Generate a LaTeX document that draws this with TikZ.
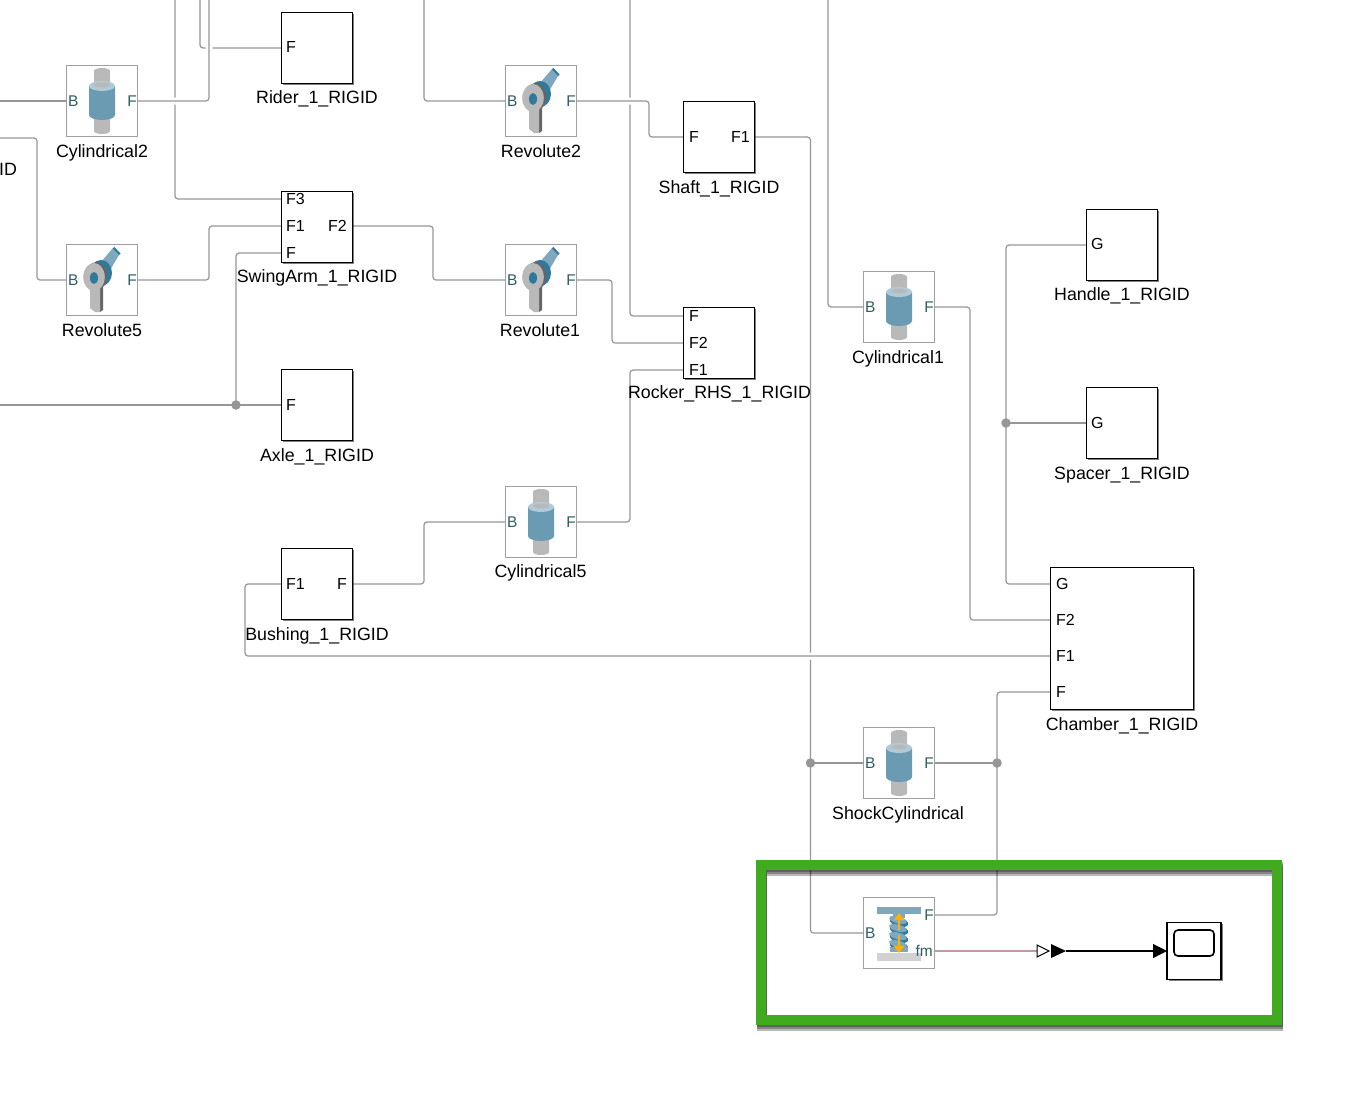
\documentclass[tikz,border=0pt]{standalone}
\usepackage{fontspec}
\setmainfont{Liberation Sans}
\usetikzlibrary{arrows.meta,shadows,backgrounds}
\definecolor{wiregray}{HTML}{969696}
\definecolor{jointgray}{HTML}{A0A0A0}
\definecolor{portteal}{HTML}{2F5F63}
\definecolor{bodyblue}{HTML}{6B9AB3}
\definecolor{capblue}{HTML}{AFCBDA}
\definecolor{armblue}{HTML}{7FA7BD}
\definecolor{deepblue}{HTML}{2F7A9C}
\definecolor{rodgray}{HTML}{B9B9B9}
\definecolor{markgreen}{HTML}{40AB1E}
\definecolor{forceorange}{HTML}{FFB000}
\definecolor{sigpink}{HTML}{C09A9E}
\tikzset{
  wire/.style={draw=wiregray, line width=1.2pt, rounded corners=3pt},
  hopwire/.style={wire, preaction={draw=white, line width=7pt}},
  rigid/.style={draw=black, fill=white, line width=1.2pt, inner sep=0pt, outer sep=0pt,
    minimum width=71.5pt, minimum height=71.5pt,
    drop shadow={shadow xshift=1.6pt, shadow yshift=-1.6pt, fill=black, opacity=.5}},
  joint/.style={draw=jointgray, fill=white, line width=1.2pt, inner sep=0pt, outer sep=0pt,
    minimum width=71.5pt, minimum height=71.5pt},
  jct/.style={circle, fill=wiregray, inner sep=0pt, minimum size=9.5pt},
  blocktxt/.style={anchor=base, inner sep=0pt, font=\fontsize{17.8}{20}\selectfont},
  rigidport/.style={inner sep=0pt, font=\fontsize{16}{18}\selectfont},
  jointport/.style={inner sep=0pt, text=portteal, font=\fontsize{15.5}{18}\selectfont},
  markshade/.style={draw=black, opacity=.28, line width=10pt, minimum width=516pt, minimum height=155pt},
  cylicon/.pic={
    \fill[rodgray] (-8,-30) -- (-8,30) arc [start angle=180, end angle=360, x radius=8pt, y radius=3pt] -- (8,-30) -- cycle;
    \fill[black!28] (0,-30) ellipse [x radius=8pt, y radius=3pt];
    \fill[bodyblue] (-13,-15) -- (-13,14) arc [start angle=180, end angle=360, x radius=13pt, y radius=5pt] -- (13,-15) -- cycle;
    \fill[capblue] (0,-15) ellipse [x radius=13pt, y radius=5pt];
    \fill[rodgray] (0,-16) ellipse [x radius=8pt, y radius=2.5pt];
  },
  revicon/.pic={
    \fill[armblue] (10.7,-31.7) -- (17,-25) -- (5.7,-6) -- (-2.7,-16) -- cycle;
    \fill[deepblue] (10.7,-31.7) -- (12.5,-33) -- (18.5,-26.5) -- (17,-25) -- cycle;
    \fill[deepblue] (-1,-7) ellipse [x radius=11pt, y radius=13pt];
    \fill[black!60] (-5.5,-4) ellipse [x radius=10.8pt, y radius=14pt];
    \fill[black!60] (-3,8) -- (1,6) -- (1,30) -- (-2,32) -- cycle;
    \fill[rodgray] (-12,0) -- (-12,28) -- (-7,32) -- (-2,32) -- (-2,6) -- cycle;
    \fill[rodgray] (-8,-3) ellipse [x radius=10.8pt, y radius=14pt];
    \fill[deepblue] (-8,-2) ellipse [x radius=4pt, y radius=6pt];
  }
}
\begin{document}
\begin{tikzpicture}[x=1pt, y=-1pt]
    \useasboundingbox (0,0) rectangle (1362,1098);

    \coordinate (leftcyl) at (0,101);
    \coordinate (leftrev) at (0,138);
    \coordinate (leftaxle) at (0,405);
    \coordinate (topswing) at (175,0);
    \coordinate (toprider) at (200,0);
    \coordinate (topcyl) at (209,0);
    \coordinate (toprev) at (424,0);
    \coordinate (toprock) at (630,0);
    \coordinate (topone) at (828,0);
    \coordinate (swFthree) at (281,199);
    \coordinate (swFone) at (281,226);
    \coordinate (swF) at (281,253);
    \coordinate (swFtwo) at (353,226);
    \coordinate (rockF) at (683,316);
    \coordinate (rockFtwo) at (683,343);
    \coordinate (rockFone) at (683,370);
    \coordinate (chamG) at (1050,584);
    \coordinate (chamFtwo) at (1050,620);
    \coordinate (chamFone) at (1050,656);
    \coordinate (chamF) at (1050,692);
    \coordinate (springB) at (863,933);
    \coordinate (springF) at (935,915);
    \coordinate (springfm) at (935,951);
    \coordinate (convin) at (1037,951);
    \coordinate (convout) at (1066,951);

    \node[jct] (axlejct) at (236,405) {};
    \node[jct] (spacerjct) at (1006,423) {};
    \node[jct] (shockB) at (810.5,763) {};
    \node[jct] (shockF) at (997,763) {};

    \node[rigid] (rider) at (317,48) {};
    \node[joint] (cyltwo) at (102,101) {};
    \node[joint] (revfive) at (102,280) {};
    \node[rigid] (swing) at (317,227) {};
    \node[rigid] (axle) at (317,405) {};
    \node[rigid] (bushing) at (317,584) {};
    \node[joint] (revtwo) at (541,101) {};
    \node[joint] (revone) at (541,280) {};
    \node[joint] (cylfive) at (541,522) {};
    \node[rigid] (shaft) at (719,137) {};
    \node[rigid] (rocker) at (719,343) {};
    \node[joint] (cylone) at (899,307) {};
    \node[rigid] (handle) at (1122,245) {};
    \node[rigid] (spacer) at (1122,423) {};
    \node[rigid, minimum width=143.5pt, minimum height=142.5pt] (chamber) at (1122,638.5) {};
    \node[joint] (shock) at (899,763) {};
    \node[joint] (spring) at (899,933) {};
    \node[rigid, minimum width=54pt, minimum height=57pt] (scopeblk) at (1194,951) {};

    \begin{scope}[on background layer]
    \draw[wire] (leftcyl) -- (cyltwo.west);
    \draw[wire] (leftrev) -| (37,210) |- (revfive.west);
    \draw[wire] (topswing) |- (swFthree);
    \draw[wire] (toprider) |- (rider.west);
    \draw[hopwire] (cyltwo.east) -| (topcyl);
    \draw[wire] (revfive.east) -| (209,253) |- (swFone);
    \draw[wire] (swF) -| (axlejct.center);
    \draw[wire] (leftaxle) -- (axle.west);
    \draw[wire] (swFtwo) -| (433,253) |- (revone.west);
    \draw[wire] (toprev) |- (revtwo.west);
    \draw[wire] (toprock) |- (rockF);
    \draw[hopwire] (revtwo.east) -| (649,119) |- (shaft.west);
    \draw[wire] (revone.east) -| (612,311) |- (rockFtwo);
    \draw[wire] (rockFone) -| (630,446) |- (cylfive.east);
    \draw[wire] (bushing.east) -| (424,553) |- (cylfive.west);
    \draw[wire] (shaft.east) -| (shockB.center);
    \draw[hopwire] (bushing.west) -| (245,620) |- (chamFone);
    \draw[wire] (shockB.center) |- (springB);
    \draw[wire] (shockB.center) -- (shock.west);
    \draw[wire] (topone) |- (cylone.west);
    \draw[wire] (cylone.east) -| (970,463) |- (chamFtwo);
    \draw[wire] (handle.west) -| (1006,414) |- (chamG);
    \draw[wire] (spacerjct.center) -- (spacer.west);
    \draw[wire] (shock.east) -- (shockF.center);
    \draw[wire] (chamF) -| (997,803) |- (springF);
    \draw[draw=sigpink, line width=1.2pt] (springfm) -- (convin);
    \end{scope}

    \pic at (cyltwo) {cylicon};
    \pic at (cylfive) {cylicon};
    \pic at (cylone) {cylicon};
    \pic at (shock) {cylicon};
    \pic at (revfive) {revicon};
    \pic at (revtwo) {revicon};
    \pic at (revone) {revicon};

    \fill[armblue] (877,907) rectangle (921,914);
    \fill[armblue] (893,914) rectangle (905,918);
    \foreach \coil in {920,928,936,944} {
        \fill[deepblue, rotate around={-15:(899,\coil+2)}] (899,\coil+2) ellipse [x radius=9.5pt, y radius=4.5pt];
        \fill[armblue, rotate around={-15:(898,\coil)}] (898,\coil) ellipse [x radius=9pt, y radius=3.5pt];
    }
    \fill[armblue] (890,947) rectangle (908,952);
    \fill[black!18] (877,953) rectangle (921,961);
    \draw[forceorange, line width=2.5pt, -{Triangle[length=7pt, width=10pt]}] (899,930) -- (899,913);
    \draw[forceorange, line width=2.5pt, -{Triangle[length=7pt, width=10pt]}] (899,935) -- (899,953);

    \draw[draw=black, line width=1pt, fill=white] (1037,945) -- (1049,951) -- (1037,957) -- cycle;
    \fill[black] (1051,944) -- (1066,951) -- (1051,958) -- cycle;
    \draw[draw=black, line width=1.1pt, -{Triangle[length=14pt, width=14pt]}] (convout) -- (scopeblk.west);
    \draw[draw=black, line width=1.6pt, rounded corners=4pt] (1174,930) rectangle (1214,956);

    \node[jointport, anchor=base west] (cyltwoB) at (68,106) {B};
    \node[jointport, anchor=base east] (cyltwoF) at (137,106) {F};
    \node[jointport, anchor=base west] (revfiveB) at (68,285) {B};
    \node[jointport, anchor=base east] (revfiveF) at (137,285) {F};
    \node[jointport, anchor=base west] (revtwoB) at (507,106) {B};
    \node[jointport, anchor=base east] (revtwoF) at (576,106) {F};
    \node[jointport, anchor=base west] (revoneB) at (507,285) {B};
    \node[jointport, anchor=base east] (revoneF) at (576,285) {F};
    \node[jointport, anchor=base west] (cylfiveB) at (507,527) {B};
    \node[jointport, anchor=base east] (cylfiveF) at (576,527) {F};
    \node[jointport, anchor=base west] (cyloneB) at (865,312) {B};
    \node[jointport, anchor=base east] (cyloneF) at (934,312) {F};
    \node[jointport, anchor=base west] (shockBl) at (865,768) {B};
    \node[jointport, anchor=base east] (shockFl) at (934,768) {F};
    \node[jointport, anchor=base west] (springBl) at (865,938) {B};
    \node[jointport, anchor=base east] (springFl) at (934,920) {F};
    \node[jointport, anchor=base east] (springml) at (933,956) {fm};

    \node[rigidport, anchor=base west] (riderF) at (286,52) {F};
    \node[rigidport, anchor=base west] (swingFc) at (286,204) {F3};
    \node[rigidport, anchor=base west] (swingFa) at (286,231) {F1};
    \node[rigidport, anchor=base east] (swingFb) at (347,231) {F2};
    \node[rigidport, anchor=base west] (swingFd) at (286,258) {F};
    \node[rigidport, anchor=base west] (axleF) at (286,410) {F};
    \node[rigidport, anchor=base west] (bushFa) at (286,589) {F1};
    \node[rigidport, anchor=base east] (bushFb) at (347,589) {F};
    \node[rigidport, anchor=base west] (shaftFa) at (689,142) {F};
    \node[rigidport, anchor=base east] (shaftFb) at (750,142) {F1};
    \node[rigidport, anchor=base west] (rockFa) at (689,321) {F};
    \node[rigidport, anchor=base west] (rockFb) at (689,348) {F2};
    \node[rigidport, anchor=base west] (rockFc) at (689,375) {F1};
    \node[rigidport, anchor=base west] (handleG) at (1091,249) {G};
    \node[rigidport, anchor=base west] (spacerG) at (1091,428) {G};
    \node[rigidport, anchor=base west] (chamGl) at (1056,589) {G};
    \node[rigidport, anchor=base west] (chamFb) at (1056,625) {F2};
    \node[rigidport, anchor=base west] (chamFa) at (1056,661) {F1};
    \node[rigidport, anchor=base west] (chamFl) at (1056,697) {F};

    \node[blocktxt] (ridertxt) at (317,103) {Rider\_1\_RIGID};
    \node[blocktxt] (cyltwotxt) at (102,157) {Cylindrical2};
    \node[blocktxt] (revfivetxt) at (102,336) {Revolute5};
    \node[blocktxt] (swingtxt) at (317,282) {SwingArm\_1\_RIGID};
    \node[blocktxt] (axletxt) at (317,461) {Axle\_1\_RIGID};
    \node[blocktxt] (bushtxt) at (317,640) {Bushing\_1\_RIGID};
    \node[blocktxt] (revtwotxt) at (541,157) {Revolute2};
    \node[blocktxt] (revonetxt) at (540,336) {Revolute1};
    \node[blocktxt] (cylfivetxt) at (540.5,577) {Cylindrical5};
    \node[blocktxt] (shafttxt) at (719,193) {Shaft\_1\_RIGID};
    \node[blocktxt] (rocktxt) at (719.5,398) {Rocker\_RHS\_1\_RIGID};
    \node[blocktxt] (cylonetxt) at (898,363) {Cylindrical1};
    \node[blocktxt] (handletxt) at (1122,300) {Handle\_1\_RIGID};
    \node[blocktxt] (spacertxt) at (1122,479) {Spacer\_1\_RIGID};
    \node[blocktxt] (chamtxt) at (1122,730) {Chamber\_1\_RIGID};
    \node[blocktxt] (shocktxt) at (898,819) {ShockCylindrical};
    \node[blocktxt, anchor=base west] (cuttxt) at (-1,175) {ID};

    \node[markshade] (shadea) at (1020,948.5) {};
    \node[markshade] (shadeb) at (1020,946.5) {};
    \node[markshade] (shadec) at (1020,944.5) {};
    \node[draw=markgreen, line width=10pt, minimum width=516pt, minimum height=155pt] (markbox) at (1019,942.5) {};
\end{tikzpicture}
\end{document}
